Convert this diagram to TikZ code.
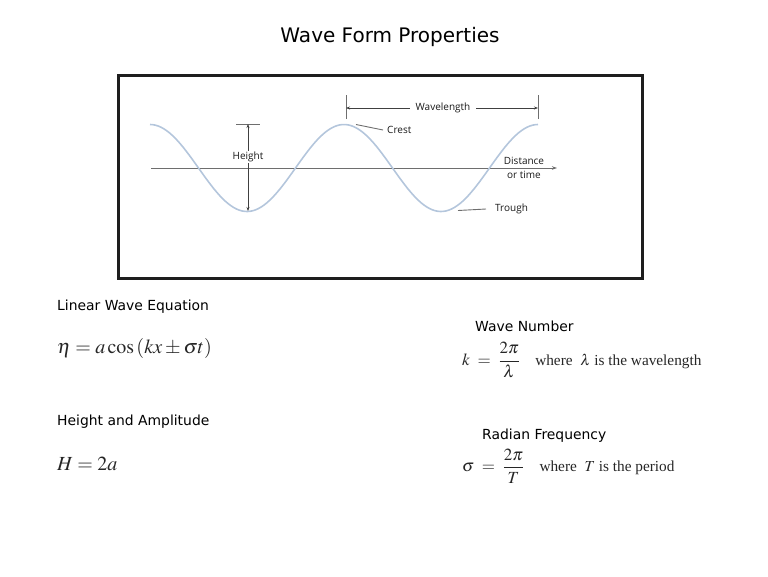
\documentclass[tikz,border=0pt]{standalone}
\usepackage{amsmath}
\usepackage{mathptmx}
\usepackage{fontspec}
\setmainfont{Liberation Serif}
\newfontfamily\labelfont{DejaVu Sans}
\newfontfamily\figfont{Open Sans}
\usepackage{xcolor}
\definecolor{cWave} {HTML}{B4C6DC}
\definecolor{cAxis} {HTML}{6E6E6E}
\definecolor{cFrame}{HTML}{1E1E1E}
\usepackage{tikz}
\usetikzlibrary{arrows.meta, positioning}
\newcommand{\msize}[2]{{\fontsize{#1}{#1}\selectfont$#2$}}
\tikzset{
  ttl/.style  = {font=\labelfont\fontsize{20}{24}\selectfont},
  lbl/.style  = {anchor=west, inner sep=0pt,
                 font=\labelfont\fontsize{13.9}{16}\selectfont},
  eqn/.style  = {anchor=west, inner sep=0pt, text=black!85,
                 font=\fontsize{15.3}{18}\selectfont},
  fig/.style  = {font=\figfont\fontsize{10}{14}\selectfont,
                 text=black!90, inner sep=1pt, align=center},
  ldr/.style  = {draw=cAxis, line width=0.9pt},
  dimarr/.style = {{Stealth[length=4pt,width=3pt]}-{Stealth[length=4pt,width=3pt]},
                 draw=black!75, line width=0.6pt},
}

\begin{document}
\begin{tikzpicture}[x=1pt, y=-1pt]
  \useasboundingbox (0,0) rectangle (768,576);

  %% Title
  \node[ttl] (title) at (390,37) {Wave Form Properties};

  %% Figure frame
  \draw[cFrame, line width=3pt] (118,75) rectangle (642,278);

  %% Axis and wave
  \coordinate (ax0) at (151,168);
  \coordinate (ax1) at (557,168);
  \draw[ldr, -{Stealth[length=5pt,width=3.5pt]}] (ax0) -- (ax1);
  \draw[cWave, line width=1.6pt]
        plot[domain=150:538, samples=140] (\x, {168-43.5*cos(1.85567*(\x-150))});

  %% Height
  \coordinate (htop) at (248,124);
  \coordinate (hbot) at (248,211);
  \draw[ldr] ([xshift=-12pt]htop) -- ([xshift=12pt]htop);
  \draw[dimarr] (htop) -- (hbot);
  \node[fig, fill=white] (ht) at (248,157) {Height};

  %% Wavelength
  \coordinate (wl0) at (346,108);
  \coordinate (wl1) at (538,108);
  \draw[ldr, line width=0.7pt] ([yshift=-11pt]wl0) -- ([yshift=13pt]wl0);
  \draw[ldr, line width=0.7pt] ([yshift=-11pt]wl1) -- ([yshift=13pt]wl1);
  \draw[dimarr] (wl0) -- (wl1);
  \node[fig, fill=white, inner xsep=6pt] (wl) at (443,108) {Wavelength};

  %% Crest, trough, axis label
  \coordinate (cpt) at (356,124.5);
  \coordinate (tpt) at (458,210.5);
  \node[fig, anchor=west] (crest)  at (386,130) {Crest};
  \node[fig, anchor=west] (trough) at (494,209) {Trough};
  \node[fig] (dist) at (524,168) {Distance\\or time};
  \draw[ldr] (cpt) -- ([xshift=-3pt]crest.west);
  \draw[ldr] (tpt) -- ([xshift=-8pt]trough.west);

  %% Equations, left column
  \node[lbl] (lwe) at (57,307) {Linear Wave Equation};
  \node[eqn] (eta) at (57,348) {\msize{20}{\eta = a\cos\left(kx \pm \sigma t\right)}};
  \node[lbl] (haa) at (57,422) {Height and Amplitude};
  \node[eqn] (hh)  at (57,464) {\msize{20}{H = 2a}};

  %% Equations, right column
  \node[lbl] (wn)  at (475,326) {Wave Number};
  \node[eqn] (keq) at (462,360)
        {\msize{17}{k \;=\; \dfrac{2\pi}{\lambda}}\quad where~ $\lambda$ is the wavelength};
  \node[lbl] (rf)  at (482,436) {Radian Frequency};
  \node[eqn] (seq) at (462,466)
        {\msize{17}{\sigma \;=\; \dfrac{2\pi}{T}}\quad where~ $T$ is the period};

\end{tikzpicture}
\end{document}
